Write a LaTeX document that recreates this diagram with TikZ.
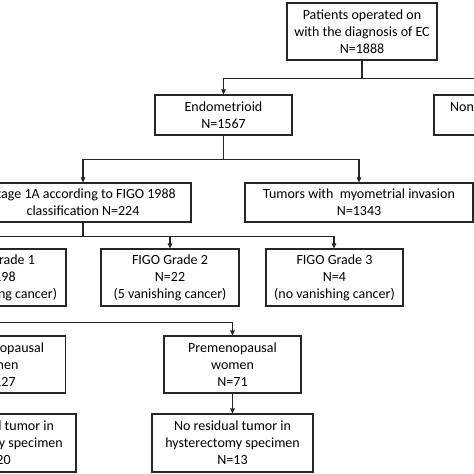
\documentclass[tikz,border=0pt]{standalone}
\usepackage{fontspec}
\setmainfont{Carlito}
\definecolor{fLine}{HTML}{262626}
\usetikzlibrary{arrows.meta}

\begin{document}
\begin{tikzpicture}[x=1pt, y=-1pt,
  bx/.style={draw=fLine, line width=1.2pt, fill=white, inner sep=0pt,
             align=center, font=\fontsize{14}{17}\selectfont},
  ar/.style={-{Triangle[length=5pt, width=4.5pt]}, fLine, line width=1.1pt},
  ln/.style={fLine, line width=1.1pt}]
  \useasboundingbox (0,0) rectangle (474,474);
  \clip (0,0) rectangle (474,474);
  \fill[white] (0,0) rectangle (474,474);
  % level 1 and 2
  \node[bx, minimum width=150pt, minimum height=57pt] (all) at (362,31.5)
     {Patients operated on\\with the diagnosis of EC\\N=1888};
  \node[bx, minimum width=137pt, minimum height=40pt] (endo) at (223.5,115)
     {Endometrioid\\N=1567};
  \node[bx, minimum width=137pt, minimum height=40pt] (nonendo) at (502.5,115)
     {Non endometrioid\\N=321};
  % level 3
  \node[bx, minimum width=216pt, minimum height=39pt] (stage) at (83,202.5)
     {Stage 1A according to FIGO 1988\\classification N=224};
  \node[bx, minimum width=228pt, minimum height=39pt] (myo) at (359,202.5)
     {Tumors with\ \ myometrial invasion\\N=1343};
  % grades
  \node[bx, minimum width=138pt, minimum height=57pt] (gr1) at (-3,277.5)
     {FIGO Grade 1\\N=198\\(33 vanishing cancer)};
  \node[bx, minimum width=138pt, minimum height=57pt] (gr2) at (170,277.5)
     {FIGO Grade 2\\N=22\\(5 vanishing cancer)};
  \node[bx, minimum width=137pt, minimum height=57pt] (gr3) at (334.5,277.5)
     {FIGO Grade 3\\N=4\\(no vanishing cancer)};
  % menopausal status
  \node[bx, minimum width=137pt, minimum height=57pt] (post) at (-3,364.5)
     {Postmenopausal\\women\\N=127};
  \node[bx, minimum width=137pt, minimum height=57pt] (pre) at (232.5,364.5)
     {Premenopausal\\women\\N=71};
  \node[bx, minimum width=161pt, minimum height=58pt] (resA) at (-4.5,443)
     {No residual tumor in\\hysterectomy specimen\\N=20};
  \node[bx, minimum width=161pt, minimum height=58pt] (resB) at (232.5,443)
     {No residual tumor in\\hysterectomy specimen\\N=13};

  \draw[ar] (all.south) -- ++(0,18) -| (endo.north);
  \draw[ar] (all.south) -- ++(0,18) -| (nonendo.north);
  \draw[ar] (endo.south) -- ++(0,24) -| (stage.north);
  \draw[ar] (endo.south) -- ++(0,24) -| (myo.north);
  \draw[ar] (stage.south) -- ++(0,14) -| (gr1.north);
  \draw[ar] (stage.south) -- ++(0,14) -| (gr2.north);
  \draw[ar] (stage.south) -- ++(0,14) -| ([xshift=-0.5pt]gr3.north);
  \draw[ar] (gr1.south) -- ++(0,16) -| (post.north);
  \draw[ar] (gr1.south) -- ++(0,16) -| (pre.north);
  \draw[ar] (post) -- (resA);
  \draw[ar] (pre) -- (resB);
\end{tikzpicture}
\end{document}
